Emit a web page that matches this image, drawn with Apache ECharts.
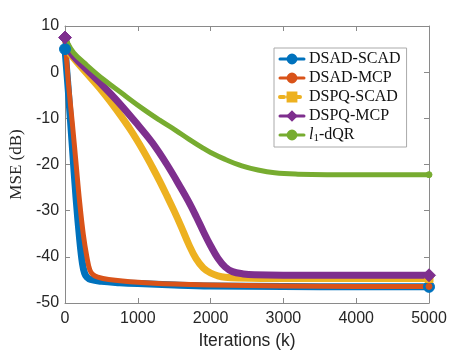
<!DOCTYPE html>
<html>
<head>
<meta charset="utf-8">
<script src="https://cdn.jsdelivr.net/npm/echarts@6/dist/echarts.min.js"></script>
<style>html,body{margin:0;padding:0;background:#fff;}#c{width:474px;height:355px;}</style>
</head>
<body>
<div id="c"></div>
<script>
// ---- data ----
var seriesNames = ['DSAD-SCAD', 'DSAD-MCP', 'DSPQ-SCAD', 'DSPQ-MCP', 'l1-dQR'];
var xTicks = [0, 1000, 2000, 3000, 4000, 5000];
var yTicks = [-50, -40, -30, -20, -10, 0, 10];

var iterBlue = [0, 20, 50, 100, 150, 200, 240, 270, 300, 350, 500, 750, 1000, 1500, 2000, 3000, 4000, 5000];
var mseBlue  = [5, 1, -5, -16, -27, -36, -41.5, -43.6, -44.4, -44.9, -45.3, -45.6, -45.8, -46.1, -46.3, -46.4, -46.5, -46.5];

var iterOrange = [0, 25, 50, 100, 150, 200, 250, 300, 340, 380, 450, 600, 1000, 1500, 2000, 3000, 4000, 5000];
var mseOrange  = [7.5, 2, -3, -11, -19.5, -28, -35, -40, -42.8, -43.8, -44.4, -44.9, -45.5, -45.9, -46.1, -46.3, -46.4, -46.4];

var iterYellow = [0, 50, 120, 300, 530, 700, 900, 1075, 1200, 1300, 1400, 1500, 1600, 1700, 1800, 1900, 2000, 2100, 2200, 2400, 2700, 3000, 5000];
var mseYellow  = [7.5, 4.5, 3, -0.3, -4.5, -8, -12.5, -17, -20.6, -23.6, -26.8, -30.1, -33.6, -37.3, -40.4, -42.4, -43.5, -44.1, -44.4, -44.6, -44.7, -44.7, -44.7];

var iterPurple = [0, 50, 120, 300, 530, 750, 1000, 1200, 1400, 1600, 1700, 1800, 1900, 2000, 2100, 2200, 2300, 2450, 2600, 3000, 4000, 5000];
var msePurple  = [7.5, 5, 3.4, 0.5, -3.1, -6.8, -11.4, -15.3, -20.0, -25.3, -28.1, -31.2, -34.5, -37.6, -40.3, -42.2, -43.2, -43.7, -43.9, -44, -44, -44];

var iterGreen = [0, 30, 120, 300, 530, 800, 1075, 1300, 1520, 1700, 1890, 2000, 2200, 2430, 2650, 2880, 3200, 3600, 4000, 5000];
var mseGreen  = [8, 6.5, 4.2, 1.5, -1.6, -4.8, -8, -10.4, -12.6, -14.5, -16.4, -17.4, -18.9, -20.3, -21.2, -21.8, -22.1, -22.2, -22.2, -22.2];

var colors = ['#0072BD', '#D95319', '#EDB120', '#7E2F8E', '#77AC30'];

var chart = echarts.init(document.getElementById('c'), null, { renderer: 'canvas' });

var axisColor = '#8a8a8a';
var labelColor = '#262626';
var sans = 'Liberation Sans, Arial, sans-serif';
var serif = 'Liberation Serif, Times New Roman, serif';

function mk(name, xs, ys, color, width, symbol, size, both) {
  var last = xs.length - 1;
  var data = xs.map(function (x, i) {
    var marked = (i === last) || (both && i === 0);
    return marked ? { value: [x, ys[i]], symbol: symbol, symbolSize: size }
                  : { value: [x, ys[i]], symbol: 'none' };
  });
  return {
    name: name, type: 'line', data: data,
    smooth: 0.4,
    symbol: symbol, showSymbol: true, showAllSymbol: true, symbolSize: size,
    lineStyle: { color: color, width: width, cap: 'round', join: 'round' },
    itemStyle: { color: color, borderColor: color, borderWidth: 1 },
    emphasis: { disabled: true },
    animation: false
  };
}

function plain(v) { return String(v); }

var option = {
  animation: false,
  color: colors,
  grid: { left: 61, right: 45, top: 26, bottom: 49, containLabel: false },
  xAxis: [{
    type: 'value', min: 0, max: 5000, interval: 1000,
    name: 'Iterations (k)', nameLocation: 'middle', nameGap: 29,
    nameTextStyle: { fontFamily: sans, fontSize: 17.5, color: labelColor },
    axisLine: { show: true, onZero: false, lineStyle: { color: axisColor, width: 1 } },
    axisTick: { show: true, inside: true, length: 5, lineStyle: { color: axisColor } },
    axisLabel: { fontFamily: sans, fontSize: 16, color: labelColor, margin: 8, formatter: plain },
    splitLine: { show: false }
  }, {
    type: 'value', min: 0, max: 5000, interval: 1000, position: 'top',
    axisLine: { show: true, onZero: false, lineStyle: { color: axisColor, width: 1 } },
    axisTick: { show: true, inside: true, length: 5, lineStyle: { color: axisColor } },
    axisLabel: { show: false }, splitLine: { show: false }
  }],
  yAxis: [{
    type: 'value', min: -50, max: 10, interval: 10,
    name: 'MSE (dB)', nameLocation: 'middle', nameGap: 36,
    nameTextStyle: { fontFamily: serif, fontSize: 17, color: labelColor },
    axisLine: { show: true, onZero: false, lineStyle: { color: axisColor, width: 1 } },
    axisTick: { show: true, inside: true, length: 5, lineStyle: { color: axisColor } },
    axisLabel: { fontFamily: sans, fontSize: 16, color: labelColor, margin: 6, formatter: plain },
    splitLine: { show: false }
  }, {
    type: 'value', min: -50, max: 10, interval: 10, position: 'right',
    axisLine: { show: true, onZero: false, lineStyle: { color: axisColor, width: 1 } },
    axisTick: { show: true, inside: true, length: 5, lineStyle: { color: axisColor } },
    axisLabel: { show: false }, splitLine: { show: false }
  }],
  legend: {
    orient: 'vertical', left: 274, top: 48,
    padding: [3, 6, 3, 4], itemGap: 3, itemWidth: 24, itemHeight: 11,
    backgroundColor: '#fff', borderColor: '#aaaaaa', borderWidth: 1,
    textStyle: {
      fontFamily: serif, fontSize: 16, color: '#111',
      rich: {
        it: { fontFamily: serif, fontSize: 16, fontStyle: 'italic', color: '#111' },
        sub: { fontFamily: serif, fontSize: 11, color: '#111', padding: [7, 0, 0, 0] },
        n: { fontFamily: serif, fontSize: 16, color: '#111' }
      }
    },
    formatter: function (name) {
      if (name === 'l1-dQR') return '{it|l}{sub|1}{n|-dQR}';
      return name;
    },
    data: [
      { name: seriesNames[0], lineStyle: { width: 3 } },
      { name: seriesNames[1], lineStyle: { width: 3 } },
      { name: seriesNames[2], lineStyle: { type: 'dotted', width: 4 } },
      { name: seriesNames[3], lineStyle: { width: 3 } },
      { name: seriesNames[4], lineStyle: { width: 3 } }
    ]
  },
  series: [
    mk(seriesNames[0], iterBlue, mseBlue, colors[0], 7, 'circle', 11, true),
    mk(seriesNames[1], iterOrange, mseOrange, colors[1], 5, 'circle', 6, false),
    mk(seriesNames[2], iterYellow, mseYellow, colors[2], 7, 'rect', 8, false),
    mk(seriesNames[3], iterPurple, msePurple, colors[3], 7, 'diamond', 13, true),
    mk(seriesNames[4], iterGreen, mseGreen, colors[4], 5, 'circle', 6, false)
  ]
};
chart.setOption(option);
</script>
</body>
</html>
